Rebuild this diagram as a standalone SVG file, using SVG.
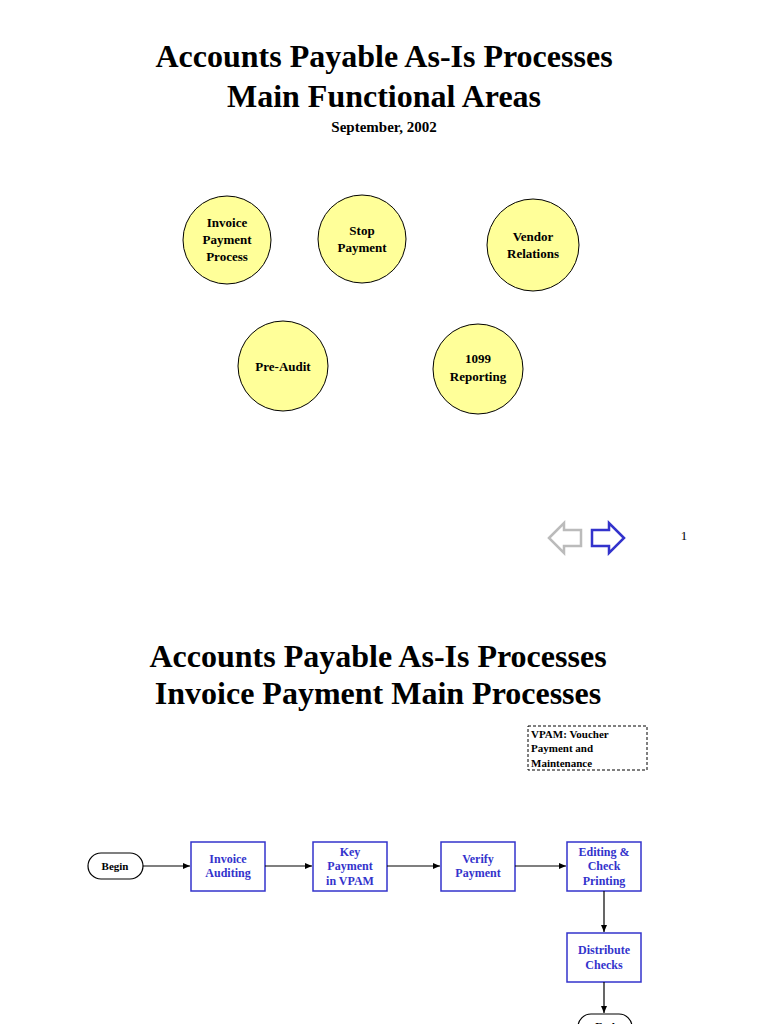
<svg xmlns="http://www.w3.org/2000/svg" width="768" height="1024" viewBox="0 0 768 1024">
<style>
text{font-family:"Liberation Serif",serif;font-weight:bold;text-anchor:middle}
.t{font-size:32px}
.c{fill:#ffff99;stroke:#000;stroke-width:1}
.ct{font-size:13px}
.b{fill:#fff;stroke:#3333cc;stroke-width:1.5}
.bt{font-size:12px;fill:#3333cc}
.r{fill:#fff;stroke:#000;stroke-width:1.2}
.l{stroke:#000;stroke-width:1.2;fill:none;marker-end:url(#a)}
</style>
<defs><marker id="a" markerWidth="8" markerHeight="8" refX="7" refY="4" orient="auto" markerUnits="userSpaceOnUse"><path d="M0,1 L7,4 L0,7Z" fill="#000"/></marker></defs>
<rect width="768" height="1024" fill="#fff"/>
<text class="t" x="384" y="67">Accounts Payable As-Is Processes</text>
<text class="t" x="384" y="107">Main Functional Areas</text>
<text x="384" y="132" font-size="15">September, 2002</text>
<g id="n1"><circle class="c" cx="227" cy="240" r="44"/><text class="ct" x="227" y="227">Invoice</text><text class="ct" x="227" y="244">Payment</text><text class="ct" x="227" y="261">Process</text></g>
<g id="n2"><circle class="c" cx="362" cy="239" r="44"/><text class="ct" x="362" y="235">Stop</text><text class="ct" x="362" y="252">Payment</text></g>
<g id="n3"><circle class="c" cx="533" cy="245" r="46"/><text class="ct" x="533" y="241">Vendor</text><text class="ct" x="533" y="258">Relations</text></g>
<g id="n4"><circle class="c" cx="283" cy="366" r="45"/><text class="ct" x="283" y="371">Pre-Audit</text></g>
<g id="n5"><circle class="c" cx="478" cy="369" r="45"/><text class="ct" x="478" y="363">1099</text><text class="ct" x="478" y="381">Reporting</text></g>
<path d="M549,538 L564,523 L564,530 L581,530 L581,546 L564,546 L564,553Z" fill="#fff" stroke="#bbb" stroke-width="2.5"/>
<path d="M624,538 L609,523 L609,530 L592,530 L592,546 L609,546 L609,553Z" fill="#fff" stroke="#3333cc" stroke-width="2.5"/>
<text x="684" y="540" font-size="13" fill="#000" style="font-weight:normal">1</text>
<text class="t" x="378" y="667">Accounts Payable As-Is Processes</text>
<text class="t" x="378" y="704">Invoice Payment Main Processes</text>
<g id="vpam"><rect x="528" y="726" width="119" height="44" fill="#fff" stroke="#000" stroke-dasharray="3,2"/><text x="531" y="738" font-size="11" style="text-anchor:start">VPAM: Voucher</text><text x="531" y="752" font-size="11" style="text-anchor:start">Payment and</text><text x="531" y="767" font-size="11" style="text-anchor:start">Maintenance</text></g>
<g id="begin"><rect class="r" x="88" y="853" width="55" height="26" rx="13"/><text x="115" y="870" font-size="11">Begin</text></g>
<g id="b1"><rect class="b" x="191" y="842" width="74" height="49"/><text class="bt" x="228" y="863">Invoice</text><text class="bt" x="228" y="877">Auditing</text></g>
<g id="b2"><rect class="b" x="313" y="842" width="74" height="49"/><text class="bt" x="350" y="856">Key</text><text class="bt" x="350" y="870">Payment</text><text class="bt" x="350" y="885">in VPAM</text></g>
<g id="b3"><rect class="b" x="441" y="842" width="74" height="49"/><text class="bt" x="478" y="863">Verify</text><text class="bt" x="478" y="877">Payment</text></g>
<g id="b4"><rect class="b" x="567" y="842" width="74" height="49"/><text class="bt" x="604" y="856">Editing &amp;</text><text class="bt" x="604" y="870">Check</text><text class="bt" x="604" y="885">Printing</text></g>
<g id="b5"><rect class="b" x="567" y="933" width="74" height="49"/><text class="bt" x="604" y="954">Distribute</text><text class="bt" x="604" y="969">Checks</text></g>
<g id="end"><rect class="r" x="578" y="1014" width="54" height="26" rx="13"/><text x="605" y="1030" font-size="11">End</text></g>
<g id="connectors">
<path class="l" d="M143,866 H190"/>
<path class="l" d="M265,866 H312"/>
<path class="l" d="M387,866 H440"/>
<path class="l" d="M515,866 H566"/>
<path class="l" d="M604,891 V932"/>
<path class="l" d="M604,982 V1013"/>
</g>
</svg>
